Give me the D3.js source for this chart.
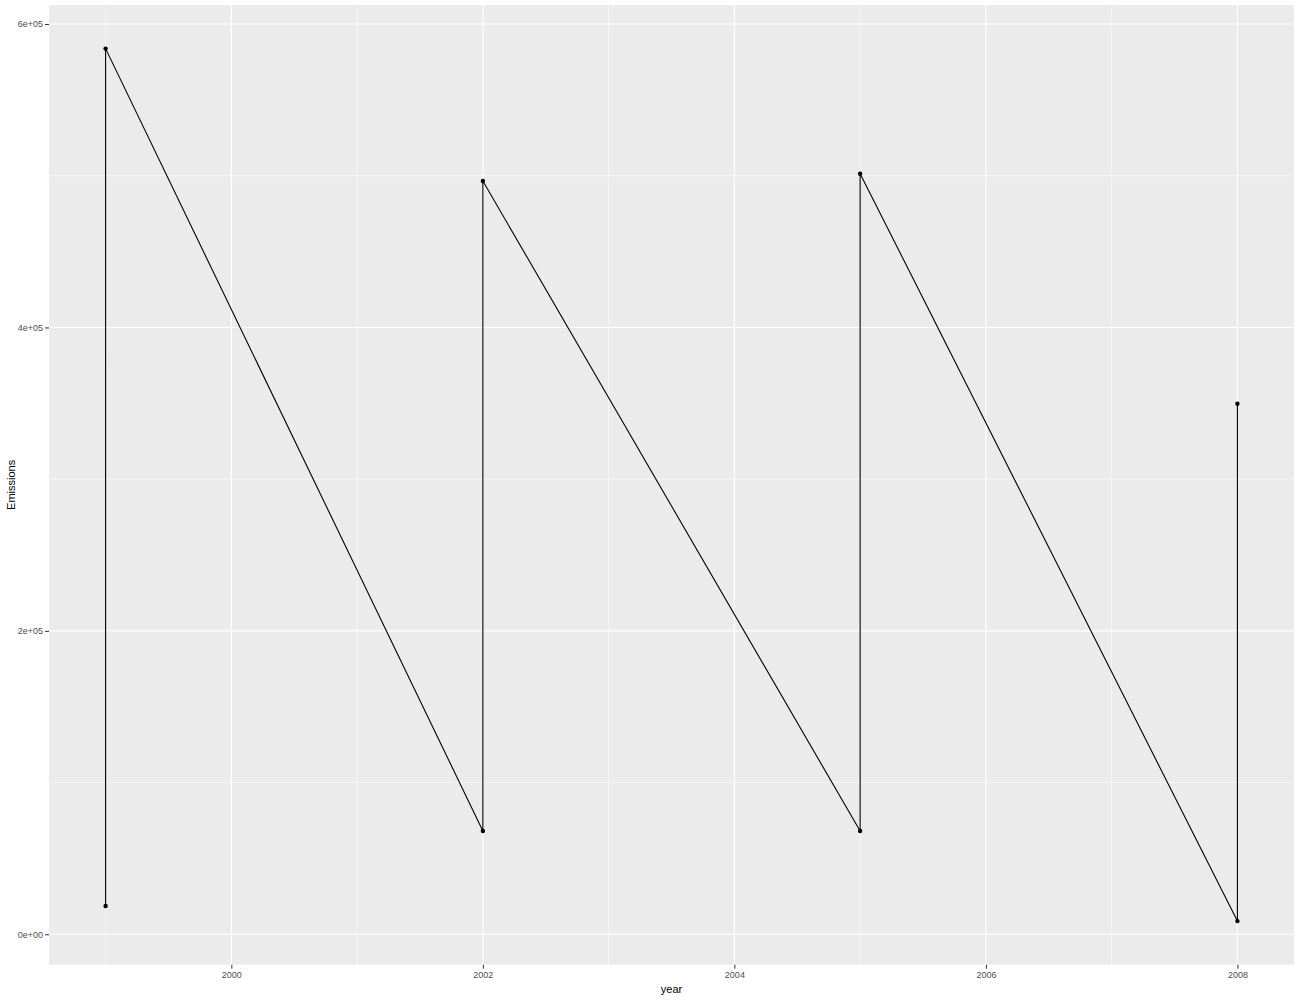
<!DOCTYPE html>
<html>
<head>
<meta charset="utf-8">
<script src="https://cdn.jsdelivr.net/npm/d3@7"></script>
<style>
  body { margin: 0; background: #fff; }
  text { font-family: 'Liberation Sans', Arial, sans-serif; }
</style>
</head>
<body>
<div id="chart"></div>
<script>
// data, in drawing order (geom_line order)
const years = [1999, 1999, 2002, 2002, 2005, 2005, 2008, 2008]
const emissions = [18650, 583770, 68090, 496520, 68090, 501330, 8700, 349730]

const xTicks = [2000, 2002, 2004, 2006, 2008]
const xMinor = [1999, 2001, 2003, 2005, 2007]
const yTicks = [0, 200000, 400000, 600000]
const yMinor = [100000, 300000, 500000]
const yLabels = ['0e+00', '2e+05', '4e+05', '6e+05']

const margin = { top: 5, left: 49, right: 6, bottom: 35.3 }
const width = 1300 - margin.left - margin.right
const height = 1000 - margin.top - margin.bottom

const svg = d3
  .select('#chart')
  .append('svg')
  .attr('width', 1300)
  .attr('height', 1000)

const g = svg
  .append('g')
  .attr('transform', 'translate(' + margin.left + ',' + margin.top + ')')

const datapoints = years.map((y, i) => ({ year: y, value: emissions[i] }))

// ggplot style 5% expansion
const xExt = d3.extent(years)
const xPad = (xExt[1] - xExt[0]) * 0.05
const yExt = d3.extent(emissions)
const yPad = (yExt[1] - yExt[0]) * 0.05

const xPositionScale = d3
  .scaleLinear()
  .domain([xExt[0] - xPad, xExt[1] + xPad])
  .range([0, width])

const yPositionScale = d3
  .scaleLinear()
  .domain([yExt[0] - yPad, yExt[1] + yPad])
  .range([height, 0])

// panel
g.append('rect')
  .attr('width', width)
  .attr('height', height)
  .attr('fill', '#EBEBEB')

// minor grid
g.selectAll('.x-minor')
  .data(xMinor)
  .enter()
  .append('line')
  .attr('x1', d => xPositionScale(d))
  .attr('x2', d => xPositionScale(d))
  .attr('y1', 0)
  .attr('y2', height)
  .attr('stroke', '#fff')
  .attr('stroke-width', 0.55)

g.selectAll('.y-minor')
  .data(yMinor)
  .enter()
  .append('line')
  .attr('x1', 0)
  .attr('x2', width)
  .attr('y1', d => yPositionScale(d))
  .attr('y2', d => yPositionScale(d))
  .attr('stroke', '#fff')
  .attr('stroke-width', 0.55)

// major grid
g.selectAll('.x-major')
  .data(xTicks)
  .enter()
  .append('line')
  .attr('x1', d => xPositionScale(d))
  .attr('x2', d => xPositionScale(d))
  .attr('y1', 0)
  .attr('y2', height)
  .attr('stroke', '#fff')
  .attr('stroke-width', 1.1)

g.selectAll('.y-major')
  .data(yTicks)
  .enter()
  .append('line')
  .attr('x1', 0)
  .attr('x2', width)
  .attr('y1', d => yPositionScale(d))
  .attr('y2', d => yPositionScale(d))
  .attr('stroke', '#fff')
  .attr('stroke-width', 1.1)

// line
const line = d3
  .line()
  .x(d => xPositionScale(d.year))
  .y(d => yPositionScale(d.value))

g.append('path')
  .datum(datapoints)
  .attr('d', line)
  .attr('fill', 'none')
  .attr('stroke', '#000')
  .attr('stroke-width', 1.1)

g.selectAll('.dot')
  .data(datapoints)
  .enter()
  .append('circle')
  .attr('cx', d => xPositionScale(d.year))
  .attr('cy', d => yPositionScale(d.value))
  .attr('r', 2.2)
  .attr('fill', '#000')

/* axes */
const xAxis = d3
  .axisBottom(xPositionScale)
  .tickValues(xTicks)
  .tickFormat(d3.format('d'))
  .tickSize(4)
  .tickPadding(3)
g.append('g')
  .attr('class', 'axis x-axis')
  .attr('transform', 'translate(0,' + height + ')')
  .call(xAxis)

const yAxis = d3
  .axisLeft(yPositionScale)
  .tickValues(yTicks)
  .tickFormat((d, i) => yLabels[i])
  .tickSize(4)
  .tickPadding(2)
g.append('g')
  .attr('class', 'axis y-axis')
  .call(yAxis)

g.selectAll('.axis .domain').remove()
g.selectAll('.axis .tick line').attr('stroke', '#333').attr('stroke-width', 1)
g.selectAll('.axis .tick text')
  .attr('fill', '#4D4D4D')
  .attr('font-size', 9)
  .style('font-family', "'Liberation Sans', Arial, sans-serif")

// titles
svg.append('text')
  .text('year')
  .attr('x', margin.left + width / 2)
  .attr('y', 993)
  .attr('text-anchor', 'middle')
  .attr('font-size', 11)
  .attr('fill', '#000')

svg.append('text')
  .text('Emissions')
  .attr('transform', 'translate(15,' + (margin.top + height / 2) + ') rotate(-90)')
  .attr('text-anchor', 'middle')
  .attr('font-size', 11)
  .attr('fill', '#000')
</script>
</body>
</html>
